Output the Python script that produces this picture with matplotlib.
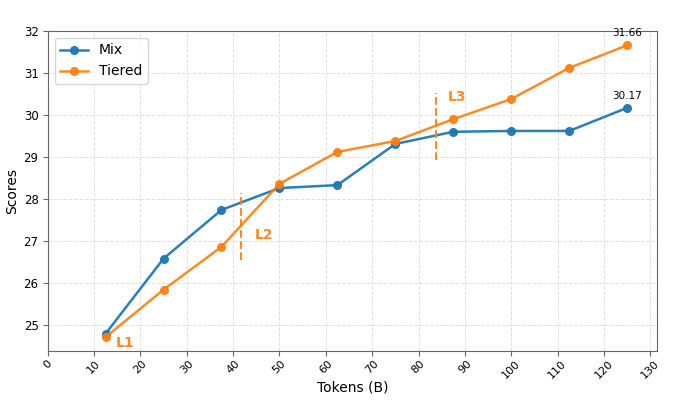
import matplotlib
matplotlib.use("Agg")
import matplotlib.pyplot as plt

tokens = [12.5, 25, 37.5, 50, 62.5, 75, 87.5, 100, 112.5, 125]
mix = [24.79, 26.58, 27.74, 28.26, 28.33, 29.31, 29.60, 29.62, 29.62, 30.17]
tiered = [24.71, 25.84, 26.86, 28.36, 29.12, 29.38, 29.90, 30.38, 31.12, 31.66]

# stage boundaries (x, y range) and their labels
stage_x = [41.7, 83.8]
stage_y = [(26.55, 28.15), (28.93, 30.52)]
stage_labels = ["L1", "L2", "L3"]
stage_label_pos = [(14.8, 24.58), (44.7, 27.15), (86.2, 30.42)]

fig = plt.figure(figsize=(7, 4), dpi=100)
ax = fig.add_axes([0.068, 0.1225, 0.871, 0.8])

ax.plot(tokens, mix, marker="o", color="tab:blue", lw=1.8, ms=5.5, alpha=0.95, label="Mix")
ax.plot(tokens, tiered, marker="o", color="tab:orange", lw=1.8, ms=5.5, alpha=0.9, label="Tiered")

for x, (y0, y1) in zip(stage_x, stage_y):
    ax.vlines(x, y0, y1, colors="tab:orange", linestyles="--", lw=1.5, alpha=0.9)
for lab, (x, y) in zip(stage_labels, stage_label_pos):
    ax.text(x, y, lab, color="tab:orange", fontsize=10, fontweight="bold",
            ha="left", va="center", alpha=0.9)

ax.annotate(f"{mix[-1]:.2f}", (tokens[-1], mix[-1]), xytext=(0, 5),
            textcoords="offset points", ha="center", va="bottom", fontsize=7.5)
ax.annotate(f"{tiered[-1]:.2f}", (tokens[-1], tiered[-1]), xytext=(0, 5),
            textcoords="offset points", ha="center", va="bottom", fontsize=7.5)

ax.set_xlim(0, 131.5)
ax.set_ylim(24.38, 32)
ax.set_xticks(range(0, 131, 10))
ax.tick_params(axis="x", labelrotation=45, labelsize=8, pad=2)
ax.tick_params(axis="y", labelsize=8.5, pad=3)
ax.tick_params(colors="0.4", labelcolor="black")
for s in ax.spines.values():
    s.set_color("0.4")
ax.set_xlabel("Tokens (B)", fontsize=10, labelpad=0)
ax.set_ylabel("Scores", fontsize=10, labelpad=3)
ax.grid(True, linestyle="--", alpha=0.4, lw=0.7)
ax.legend(loc="upper left", fontsize=10)

fig.savefig("out.png", dpi=100)
